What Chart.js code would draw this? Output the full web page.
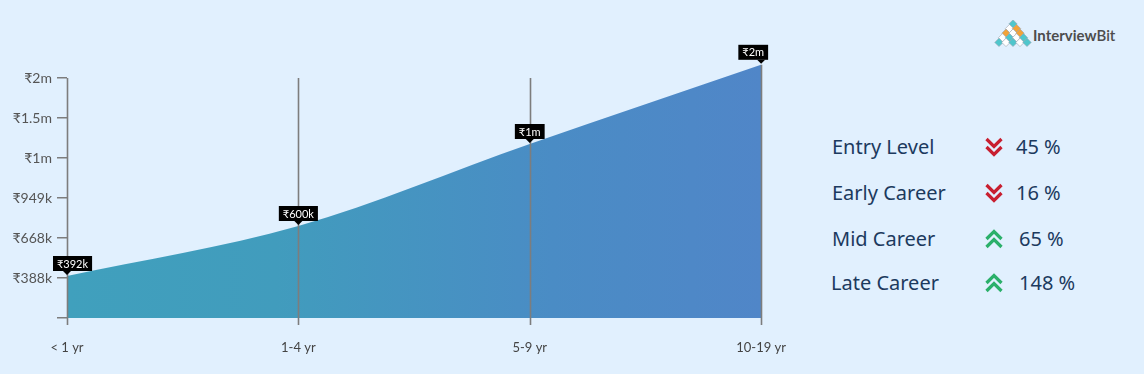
<!DOCTYPE html>
<html>
<head>
<meta charset="utf-8">
<script src="https://cdn.jsdelivr.net/npm/chart.js@4.4.1/dist/chart.umd.min.js"></script>
<style>
  html, body { margin:0; padding:0; background:#e1f0fe; }
  #wrap { position:relative; width:1144px; height:374px; background:#e1f0fe; overflow:hidden; font-family: Lato, "Noto Sans", sans-serif; }
  #chartBox { position:absolute; left:0; top:0; width:808px; height:374px; }
  .lg { position:absolute; font-family:"Noto Sans", Lato, sans-serif; font-size:20px; color:#1c3a5e; line-height:24px; white-space:nowrap; }
  .arr { position:absolute; width:18px; height:20px; }
</style>
</head>
<body>
<div id="wrap">
  <div id="chartBox"><canvas id="c"></canvas></div>
  <div id="legend"></div>
  <svg id="logo" style="position:absolute;left:994px;top:20px" width="130" height="28" viewBox="0 0 130 28"></svg>
</div>
<script>
// ---- data ----
const categories = ['< 1 yr', '1-4 yr', '5-9 yr', '10-19 yr'];
// salary level expressed in y-axis tick units (0 = bottom tick, 1 = ₹388k, ... 6 = ₹2m)
const salaryLevel = [1.05, 2.3, 4.35, 6.33];
const salaryLabels = ['₹392k', '₹600k', '₹1m', '₹2m'];
const yTickValues = [0, 1, 2, 3, 4, 5, 6];
const yTickLabels = ['', '₹388k', '₹668k', '₹949k', '₹1m', '₹1.5m', '₹2m'];
const stageNames = ['Entry Level', 'Early Career', 'Mid Career', 'Late Career'];
const stageChange = [-45, -16, 65, 148];

// ---- legend on the right ----
const legend = document.getElementById('legend');
const rowCenters = [147, 193, 239, 283];
stageNames.forEach((name, i) => {
  const cy = rowCenters[i];
  const t = document.createElement('div');
  t.className = 'lg'; t.textContent = name;
  t.style.left = (i === 3 ? 831 : 832) + 'px'; t.style.top = (cy - 12) + 'px';
  legend.appendChild(t);
  const up = stageChange[i] > 0;
  const col = up ? '#2bb06a' : '#c81f30';
  const svgNS = 'http://www.w3.org/2000/svg';
  const s = document.createElementNS(svgNS, 'svg');
  s.setAttribute('class', 'arr'); s.setAttribute('viewBox', '0 0 18 20');
  s.style.left = '985px'; s.style.top = (cy - 10) + 'px';
  const pts = up ? ['1.5,10 9,2.5 16.5,10', '1.5,18 9,10.5 16.5,18'] : ['1.5,2 9,9.5 16.5,2', '1.5,10 9,17.5 16.5,10'];
  pts.forEach(p => {
    const pl = document.createElementNS(svgNS, 'polyline');
    pl.setAttribute('points', p); pl.setAttribute('fill', 'none');
    pl.setAttribute('stroke', col); pl.setAttribute('stroke-width', '3.2');
    s.appendChild(pl);
  });
  legend.appendChild(s);
  const p = document.createElement('div');
  p.className = 'lg'; p.textContent = Math.abs(stageChange[i]) + ' %';
  p.style.left = (up ? 1019 : 1016) + 'px'; p.style.top = (cy - 12) + 'px';
  legend.appendChild(p);
});

// ---- logo ----
(function(){
  const svg = document.getElementById('logo');
  const NS = 'http://www.w3.org/2000/svg';
  const rows = [
    ['#4fc6cc'],
    ['#ffffff', '#f2a33a'],
    ['#f2a33a', '#ffffff', '#f2a33a'],
    ['#ffffff', '#4fc6cc', '#ffffff', '#4fc6cc'],
    ['#4fc6cc', '#ffffff', '#4fc6cc', '#ffffff', '#4fc6cc']
  ];
  const h = 4.2;
  rows.forEach((row, r) => {
    const n = row.length;
    row.forEach((c, k) => {
      const cx = 19 + (k - (n - 1) / 2) * 7;
      const cy = 4 + r * 4.6;
      const d = document.createElementNS(NS, 'polygon');
      d.setAttribute('points', `${cx},${cy-h} ${cx+h},${cy} ${cx},${cy+h} ${cx-h},${cy}`);
      d.setAttribute('fill', c); d.setAttribute('stroke', '#9aa3ad'); d.setAttribute('stroke-width', '0.6');
      svg.appendChild(d);
    });
  });
  const t = document.createElementNS(NS, 'text');
  t.setAttribute('x', '39'); t.setAttribute('y', '21');
  t.setAttribute('font-family', 'Lato, "Noto Sans", sans-serif');
  t.setAttribute('font-size', '15'); t.setAttribute('fill', '#4d4d4d');
  const a = document.createElementNS(NS, 'tspan'); a.setAttribute('font-weight', '700'); a.textContent = 'Interview';
  const b = document.createElementNS(NS, 'tspan'); b.setAttribute('font-weight', '600'); b.textContent = 'Bit';
  t.appendChild(a); t.appendChild(b); svg.appendChild(t);
})();

// ---- chart ----
const overlay = {
  id: 'overlay',
  afterDatasetsDraw(chart) {
    const {ctx, chartArea, scales} = chart;
    const xs = scales.x, ys = scales.y;
    const meta = chart.getDatasetMeta(0);
    const topY = ys.getPixelForValue(yTickValues[yTickValues.length - 1]);
    ctx.save();
    ctx.strokeStyle = '#7d7d7d'; ctx.lineWidth = 1.6;
    meta.data.forEach((pt, i) => {
      const x = Math.round(xs.getPixelForValue(i)) + 0.5;
      ctx.beginPath();
      ctx.moveTo(x, Math.min(topY, pt.y));
      ctx.lineTo(x, chartArea.bottom + 7);
      ctx.stroke();
    });
    ctx.font = '11px Lato, "Noto Sans", sans-serif';
    ctx.textBaseline = 'middle'; ctx.textAlign = 'center';
    meta.data.forEach((pt, i) => {
      const txt = salaryLabels[i];
      const w = ctx.measureText(txt).width + 8, h = 15;
      let left = pt.x - w / 2;
      if (left < chartArea.left - 14) left = chartArea.left - 14;
      if (left + w > chartArea.right + 7) left = chartArea.right + 7 - w;
      const bottom = pt.y - 5;
      ctx.fillStyle = '#000';
      ctx.fillRect(left, bottom - h, w, h);
      ctx.beginPath();
      ctx.moveTo(pt.x - 4, bottom); ctx.lineTo(pt.x + 4, bottom); ctx.lineTo(pt.x, bottom + 4);
      ctx.closePath(); ctx.fill();
      ctx.fillStyle = '#fff';
      ctx.fillText(txt, left + w / 2, bottom - h / 2 + 0.5);
    });
    ctx.restore();
  }
};

new Chart(document.getElementById('c'), {
  type: 'line',
  data: {
    labels: categories,
    datasets: [{
      data: salaryLevel,
      fill: 'origin',
      borderWidth: 0,
      borderColor: 'rgba(0,0,0,0)',
      pointRadius: 0,
      cubicInterpolationMode: 'monotone',
      backgroundColor: (ctx) => {
        const area = ctx.chart.chartArea;
        if (!area) return '#409fbd';
        const g = ctx.chart.ctx.createLinearGradient(area.left, 0, area.right, 0);
        g.addColorStop(0, '#40a0bd');
        g.addColorStop(0.3, '#419cbd');
        g.addColorStop(0.7, '#4a8cc5');
        g.addColorStop(1, '#5086c8');
        return g;
      }
    }]
  },
  options: {
    responsive: true,
    maintainAspectRatio: false,
    animation: false,
    layout: { padding: { top: 62, right: 10, left: 0, bottom: 0 } },
    plugins: { legend: { display: false }, tooltip: { enabled: false } },
    scales: {
      x: {
        offset: false,
        grid: { display: false, drawTicks: false },
        border: { display: false },
        ticks: { color: '#444', font: { family: 'Lato, "Noto Sans", sans-serif', size: 13 }, padding: 22, maxRotation: 0, autoSkip: false },
        afterFit: (s) => { s.height = 56; }
      },
      y: {
        min: 0, max: 6.4,
        afterBuildTicks: (s) => { s.ticks = yTickValues.map(v => ({ value: v })); },
        grid: { drawOnChartArea: false, drawTicks: true, tickLength: 10, color: '#7d7d7d', lineWidth: 1.5 },
        border: { display: false },
        ticks: {
          color: '#555', font: { family: 'Lato, "Noto Sans", sans-serif', size: 14 }, padding: 5, autoSkip: false,
          callback: (v, i) => yTickLabels[i]
        },
        afterFit: (s) => { s.width = 67; }
      }
    }
  },
  plugins: [overlay]
});
</script>
</body>
</html>
